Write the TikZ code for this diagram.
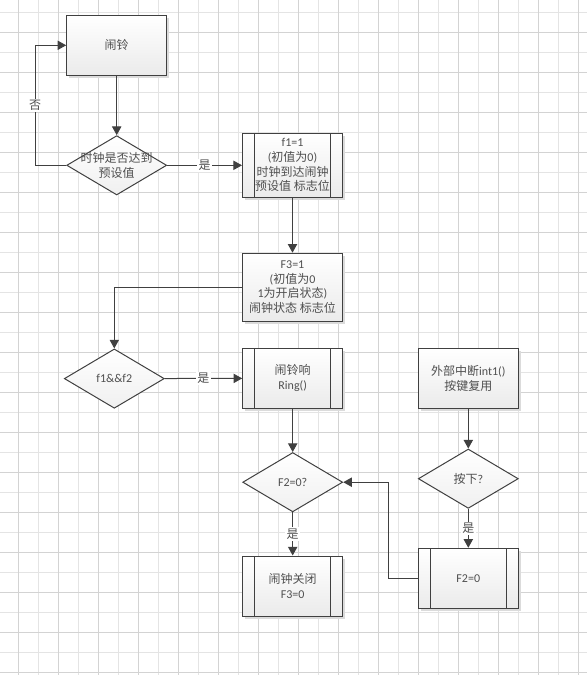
\documentclass[tikz,border=0pt]{standalone}
\usepackage{fontspec}
\setmainfont{Carlito}
\newfontfamily\cjk{Noto Sans CJK SC}
\newcommand{\zh}[1]{{\cjk #1}}
\usetikzlibrary{
  arrows.meta,%
  shapes.geometric,%
  shadows
}
\definecolor{edgegray}{HTML}{404040}
\definecolor{textgray}{HTML}{4F4F4F}
\definecolor{gridlight}{HTML}{E4E4E4}
\definecolor{griddark}{HTML}{D3D3D3}
\tikzset{>={Triangle[length=6.5pt,width=7pt]}}
\tikzset{font=\fontsize{9pt}{11pt}\selectfont}
\tikzset{
  chartbox/.style={rectangle, draw=edgegray, line width=0.75pt,
    top color=white, bottom color=black!8,
    drop shadow={shadow xshift=2pt, shadow yshift=-2pt, fill=black!14, opacity=1},
    minimum width=75pt, minimum height=45pt, inner sep=2pt,
    align=center, text=textgray},
  procbox/.style={chartbox,
    path picture={\draw[edgegray, line width=0.75pt]
      ([xshift=9pt]path picture bounding box.north west) -- ([xshift=9pt]path picture bounding box.south west)
      ([xshift=-9pt]path picture bounding box.north east) -- ([xshift=-9pt]path picture bounding box.south east);}},
  decision/.style={diamond, draw=edgegray, line width=0.75pt,
    top color=white, bottom color=black!6,
    minimum width=75pt, minimum height=44.5pt, inner sep=-12pt,
    align=center, text=textgray},
  flow/.style={draw=edgegray, line width=0.75pt, ->},
  lbl/.style={fill=white, inner sep=1pt, text=textgray}
}

\begin{document}
\begin{tikzpicture}[x=0.75pt, y=-0.75pt]
  \useasboundingbox (0,0) rectangle (587,675);
  % grid paper
  \foreach \k in {0,...,28}
    \draw[gridlight, line width=0.75pt] (18.3+20*\k,0) -- (18.3+20*\k,675);
  \foreach \k in {0,...,33}
    \draw[gridlight, line width=0.75pt] (0,12.3+20*\k) -- (587,12.3+20*\k);
  \foreach \k in {0,...,14}
    \draw[griddark, line width=0.75pt] (18.3+40*\k,0) -- (18.3+40*\k,675);
  \foreach \k in {0,...,16}
    \draw[griddark, line width=0.75pt] (0,32.3+40*\k) -- (587,32.3+40*\k);

  % left column
  \node[chartbox] (alarm) at (116.7,45.3) {\zh{闹铃}};
  \node[decision] (reach) at (116.7,165.3) {\zh{时钟是否达到}\\\zh{预设值}};
  \node[decision] (both) at (114.3,378.6) {f1\&\&f2};

  % middle column
  \node[procbox, minimum height=48pt] (flagone) at (292.5,165.3)
    {f1=1\\(\zh{初值为}0)\\\zh{时钟到达闹钟}\\\zh{预设值 标志位}};
  \node[chartbox, minimum height=51pt] (flagthree) at (292.5,287.2)
    {F3=1\\(\zh{初值为}0\\1\zh{为开启状态})\\\zh{闹钟状态 标志位}};
  \node[procbox] (ring) at (292.7,378.3) {\zh{闹铃响}\\Ring()};
  \node[decision] (check) at (292.7,482.2) {F2=0?};
  \node[procbox] (off) at (292.7,586) {\zh{闹钟关闭}\\F3=0};

  % right column
  \node[chartbox] (intr) at (468.3,378.3) {\zh{外部中断}int1()\\\zh{按键复用}};
  \node[decision] (press) at (468.3,478.7) {\zh{按下}?};
  \node[procbox] (clear) at (468.3,578.3) {F2=0};

  % connectors
  \draw[flow] (alarm) -- (reach);
  \draw[flow] (reach.west) -- ++(-31,0) |- node[pos=0.25, lbl] {\zh{否}} (alarm.west);
  \draw[flow] (reach) -- node[lbl] {\zh{是}} (flagone);
  \draw[flow] (flagone) -- (flagthree);
  \draw[flow] (flagthree.west) -| (both.north);
  \draw[flow] (both) -- node[lbl] {\zh{是}} (ring);
  \draw[flow] (ring) -- (check);
  \draw[flow] (check) -- node[lbl] {\zh{是}} (off);
  \draw[flow] (intr) -- (press);
  \draw[flow] (press) -- node[lbl] {\zh{是}} (clear);
  \draw[flow] (clear.west) -- ++(-29,0) |- (check.east);
\end{tikzpicture}
\end{document}
